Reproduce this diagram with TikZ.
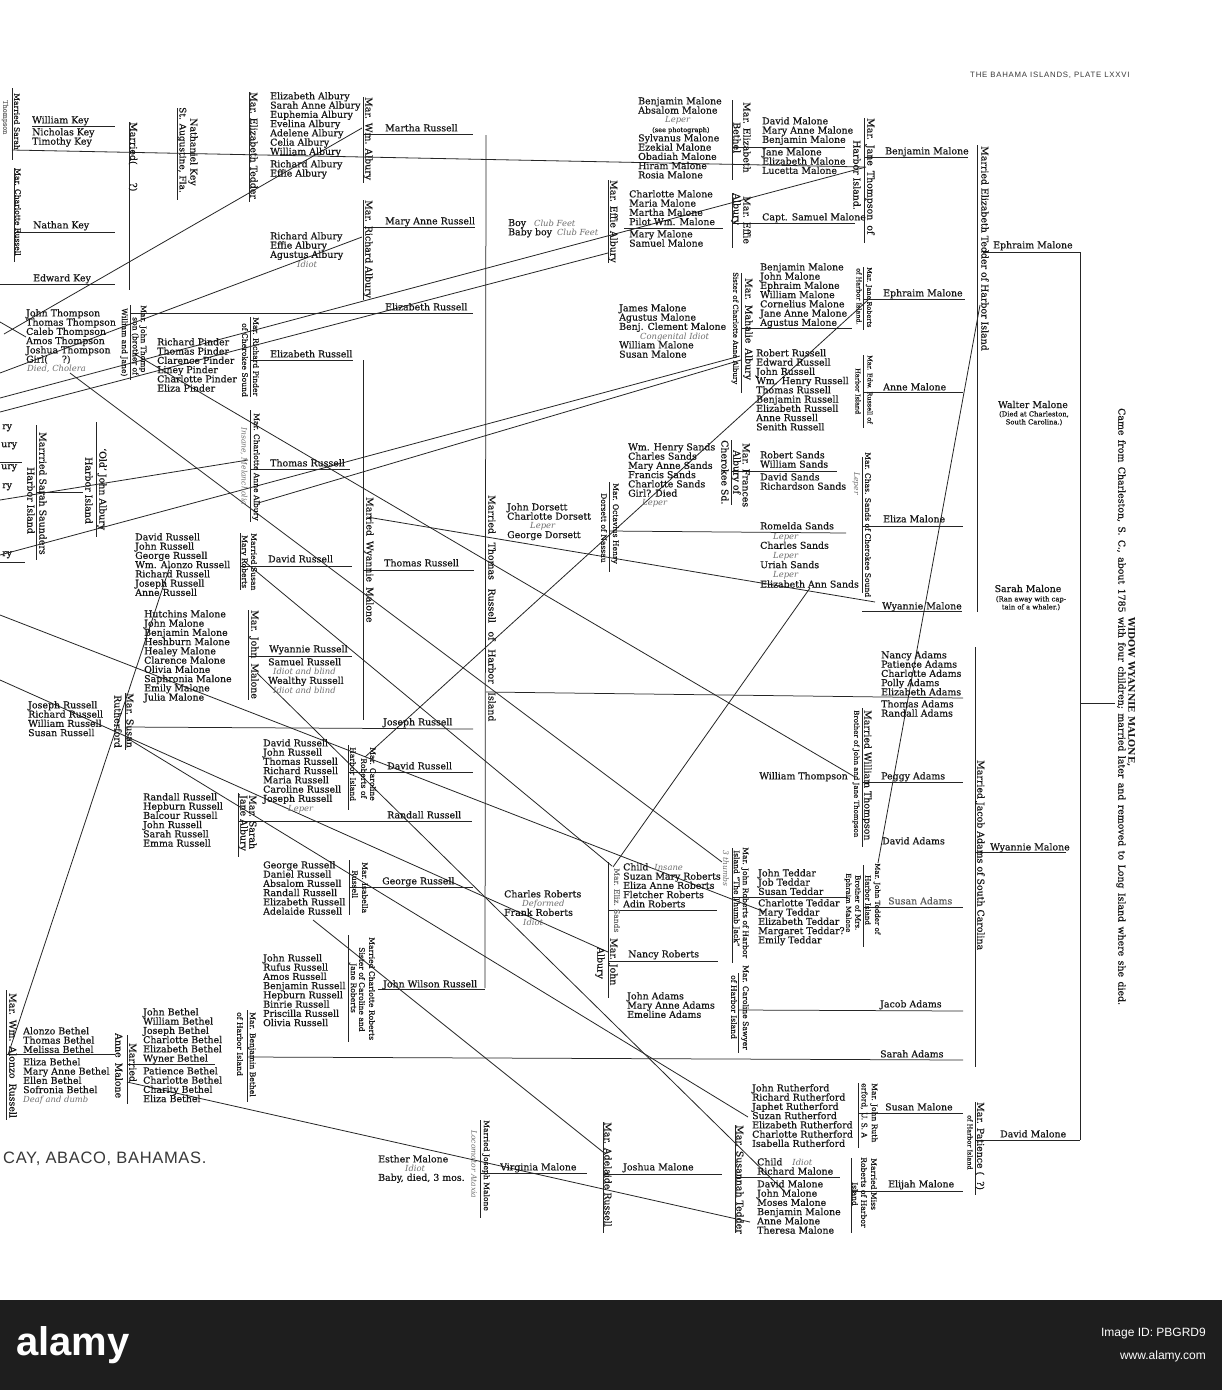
\documentclass[tikz,border=0pt]{standalone}
\usepackage{fontspec}
\setmainfont{DejaVu Serif}[UprightFeatures={FakeBold=0.45}]
\newfontfamily\hdfont[LetterSpace=10]{Liberation Sans}
\newfontfamily\cayfont[LetterSpace=4]{Liberation Sans}
\newfontfamily\logofont{Liberation Sans}
\definecolor{ink}{HTML}{151515}
\definecolor{lnc}{HTML}{252525}
\definecolor{notec}{HTML}{6E6E6E}
\definecolor{band}{HTML}{1E1E1E}
\newcommand\nte[1]{{\color{notec}\itshape\fontsize{8.4}{9.25}\selectfont #1}}
\newcommand\wsp{\hspace{5pt}}
\tikzset{
  nm/.style={anchor=north west, inner sep=0pt, align=left, text=ink, font=\fontsize{9.4}{9.25}\selectfont},
  vl/.style={rotate=-90, anchor=west, inner sep=0pt, text=ink, font=\fontsize{9.4}{9.25}\selectfont},
  vs/.style={vl, font=\fontsize{7.6}{8}\selectfont},
  vss/.style={vl, font=\fontsize{7}{8}\selectfont},
  vt/.style={vl, font=\fontsize{6.5}{7}\selectfont},
  vi/.style={vl, text=notec, font=\itshape\fontsize{7.6}{8}\selectfont},
  ln/.style={draw=lnc, line width=0.75pt},
  dg/.style={draw=lnc, line width=0.8pt},
}
\begin{document}
\begin{tikzpicture}[x=1pt,y=-1pt]
\useasboundingbox (0,0) rectangle (1222,1390);
\fill[white] (0,0) rectangle (1222,1300);
\fill[band] (0,1300) rectangle (1222,1390);
\node[anchor=west, inner sep=0pt, text=white, font=\logofont\bfseries\fontsize{40}{40}\selectfont] (logo) at (16,1345) {alamy};
\node[anchor=east, inner sep=0pt, text=white, font=\logofont\fontsize{12}{12}\selectfont] (imgid) at (1206,1334) {Image ID: PBGRD9};
\node[anchor=east, inner sep=0pt, text=white, font=\logofont\fontsize{12}{12}\selectfont] (www) at (1206,1356) {www.alamy.com};

% headers
\node[anchor=west, inner sep=0pt, text=ink!85, font=\hdfont\fontsize{7.8}{8}\selectfont] (hdr) at (970,75) {THE BAHAMA ISLANDS, PLATE LXXVI};
\node[anchor=west, inner sep=0pt, text=ink!85, font=\cayfont\fontsize{16.5}{17}\selectfont] (cay) at (3,1159) {CAY, ABACO, BAHAMAS.};

% ---------------- vertical structure lines ----------------
\draw[ln] (12,88) -- (12,160);
\draw[ln] (14,168) -- (14,262);
\draw[ln] (129,122) -- (129,290);
\draw[ln] (177,108) -- (177,200);
\draw[ln] (249,92) -- (249,202);
\draw[ln] (363,97) -- (363,183);
\draw[ln] (363,200) -- (363,300);
\draw[ln] (130,305) -- (130,380);
\draw[ln] (250,317) -- (250,397);
\draw[ln] (363,360) -- (363,720);
\draw[ln] (250,410) -- (250,522);
\draw[ln] (36,425) -- (36,560);
\draw[ln] (96,422) -- (96,537);
\draw[ln] (240,533) -- (240,590);
\draw[ln] (248,610) -- (248,700);
\draw[ln] (125,693) -- (125,750);
\draw[ln] (348,745) -- (348,810);
\draw[ln] (238,793) -- (238,857);
\draw[ln] (349,860) -- (349,915);
\draw[ln] (348,935) -- (348,1042);
\draw[ln] (247,1010) -- (247,1102);
\draw[ln] (127,1035) -- (127,1104);
\draw[ln] (6,990) -- (6,1120);
\draw[ln] (732,100) -- (732,180);
\draw[ln] (732,193) -- (732,248);
\draw[ln] (608,180) -- (608,263);
\draw[ln] (864,118) -- (864,243);
\draw[ln] (741,273) -- (741,393);
\draw[ln] (863,267) -- (863,330);
\draw[ln] (863,355) -- (863,428);
\draw[ln] (731,440) -- (731,505);
\draw[ln] (609,482) -- (609,572);
\draw[ln] (862,457) -- (862,593);
\draw[ln] (486,135) -- (485,988);
\draw[ln] (977,145) -- (977,612);
\draw[ln] (1080,252) -- (1080,1140);
\draw[ln] (975,647) -- (975,1067);
\draw[ln] (862,708) -- (862,847);
\draw[ln] (863,865) -- (863,947);
\draw[ln] (608,862) -- (608,998);
\draw[ln] (732,848) -- (732,963);
\draw[ln] (738,973) -- (738,1053);
\draw[ln] (858,1083) -- (858,1148);
\draw[ln] (851,1158) -- (851,1233);
\draw[ln] (975,1102) -- (975,1195);
\draw[ln] (735,1125) -- (735,1233);
\draw[ln] (603,1122) -- (603,1233);
\draw[ln] (480,1120) -- (480,1218);

% ---------------- horizontal lines ----------------
\draw[ln] (32,126) -- (115,126);
\draw[ln] (14,232) -- (115,232);
\draw[ln] (0,284) -- (115,284);
\draw[ln] (363,134) -- (473,134);
\draw[ln] (363,227) -- (475,227);
\draw[ln] (130,313) -- (473,313);
\draw[ln] (250,360) -- (353,360);
\draw[ln] (250,469) -- (350,469);
\draw[ln] (240,566) -- (352,566);
\draw[ln] (248,656) -- (352,656);
\draw[ln] (363,570) -- (474,570);
\draw[ln] (125,727) -- (473,729);
\draw[ln] (348,772) -- (473,772);
\draw[ln] (238,821) -- (472,821);
\draw[ln] (349,887) -- (473,887);
\draw[ln] (378,989) -- (485,989);
\draw[ln] (36,492) -- (83,492);
\draw[ln] (0,462) -- (22,462);
\draw[ln] (0,562) -- (25,562);
\draw[ln] (864,157) -- (968,157);
\draw[ln] (732,147) -- (845,147);
\draw[ln] (732,223) -- (855,223);
\draw[ln] (624,228) -- (723,228);
\draw[ln] (741,328) -- (852,328);
\draw[ln] (863,299) -- (965,299);
\draw[ln] (863,392) -- (963,392);
\draw[ln] (731,471) -- (837,471);
\draw[ln] (609,531) -- (846,533);
\draw[ln] (862,526) -- (963,526);
\draw[ln] (862,611) -- (962,611);
\draw[ln] (486,692) -- (963,698);
\draw[ln] (983,252) -- (1080,252);
\draw[ln] (975,852) -- (1066,852);
\draw[ln] (975,1140) -- (1080,1140);
\draw[ln] (1080,703) -- (1115,703);
\draw[ln] (862,782) -- (963,782);
\draw[ln] (863,907) -- (963,907);
\draw[ln] (732,897) -- (848,897);
\draw[ln] (608,910) -- (717,910);
\draw[ln] (608,961) -- (718,961);
\draw[ln] (738,1010) -- (963,1011);
\draw[ln] (247,1057) -- (963,1060);
\draw[ln] (858,1113) -- (963,1113);
\draw[ln] (851,1191) -- (963,1191);
\draw[ln] (735,1177) -- (840,1177);
\draw[ln] (603,1174) -- (722,1174);
\draw[ln] (480,1173) -- (587,1173);
\draw[ln] (127,1064) -- (215,1064);
\draw[ln] (6,1054) -- (115,1054);

% ---------------- long connecting lines ----------------
\draw[dg] (12,150) -- (865,167);
\draw[dg] (4,334) -- (362,128);
\draw[dg] (0,373) -- (362,237);
\draw[dg] (0,398) -- (866,167);
\draw[dg] (0,412) -- (608,253);
\draw[dg] (0,322) -- (26,337);
\draw[dg] (70,373) -- (722,862);
\draw[dg] (133,353) -- (855,777);
\draw[dg] (0,500) -- (248,460);
\draw[dg] (0,555) -- (740,356);
\draw[dg] (258,503) -- (741,360);
\draw[dg] (367,517) -- (875,602);
\draw[dg] (868,300) -- (365,757);
\draw[dg] (810,588) -- (613,867);
\draw[dg] (980,305) -- (878,863);
\draw[dg] (0,615) -- (765,912);
\draw[dg] (245,562) -- (612,866);
\draw[dg] (0,680) -- (608,952);
\draw[dg] (257,673) -- (783,1190);
\draw[dg] (170,566) -- (8,1055);
\draw[dg] (313,920) -- (603,1152);
\draw[dg] (127,738) -- (748,1117);
\draw[dg] (127,1082) -- (750,1222);

% ---------------- names (left part) ----------------
\node[nm] (wkey) at (32,116) {William Key};
\node[nm] (nkey) at (32,128) {Nicholas Key\\Timothy Key};
\node[nm] (nathan) at (33,221) {Nathan Key};
\node[nm] (edward) at (33,274) {Edward Key};
\node[nm] (alb1) at (270,92) {Elizabeth Albury\\Sarah Anne Albury\\Euphemia Albury\\Evelina Albury\\Adelene Albury\\Celia Albury\\William Albury};
\node[nm] (alb2) at (270,160) {Richard Albury\\Effie Albury};
\node[nm] (martha) at (385,124) {Martha Russell};
\node[nm] (maryanne) at (385,217) {Mary Anne Russell};
\node[nm] (alb3) at (270,232) {Richard Albury\\Effie Albury\\Agustus Albury\\\hspace*{27pt}\nte{Idiot}};
\node[nm] (elizr1) at (385,303) {Elizabeth Russell};
\node[nm] (thomp) at (26,309) {John Thompson\\Thomas Thompson\\Caleb Thompson\\Amos Thompson\\Joshua Thompson\\Girl(\hspace{14pt}?)\\\hspace*{1pt}\nte{Died, Cholera}};
\node[nm] (pinder) at (157,338) {Richard Pinder\\Thomas Pinder\\Clarence Pinder\\Liney Pinder\\Charlotte Pinder\\Eliza Pinder};
\node[nm] (elizr2) at (270,350) {Elizabeth Russell};
\node[nm] (thomr1) at (270,459) {Thomas Russell};
\node[nm] (davgrp) at (135,533) {David Russell\\John Russell\\George Russell\\Wm. Alonzo Russell\\Richard Russell\\Joseph Russell\\Anne Russell};
\node[nm] (davr1) at (268,555) {David Russell};
\node[nm] (thomr2) at (384,559) {Thomas Russell};
\node[nm] (hutch) at (144,610) {Hutchins Malone\\John Malone\\Benjamin Malone\\Heshburn Malone\\Healey Malone\\Clarence Malone\\Olivia Malone\\Saphronia Malone\\Emily Malone\\Julia Malone};
\node[nm] (wyr) at (269,645) {Wyannie Russell};
\node[nm] (samr) at (268,658) {Samuel Russell\\\hspace*{5pt}\nte{Idiot and blind}\\Wealthy Russell\\\hspace*{5pt}\nte{Idiot and blind}};
\node[nm] (josgrp) at (28,701) {Joseph Russell\\Richard Russell\\William Russell\\Susan Russell};
\node[nm] (josr) at (383,718) {Joseph Russell};
\node[nm] (davgrp2) at (263,739) {David Russell\\John Russell\\Thomas Russell\\Richard Russell\\Maria Russell\\Caroline Russell\\Joseph Russell\\\hspace*{25pt}\nte{Leper}};
\node[nm] (davr2) at (387,762) {David Russell};
\node[nm] (randgrp) at (143,793) {Randall Russell\\Hepburn Russell\\Balcour Russell\\John Russell\\Sarah Russell\\Emma Russell};
\node[nm] (randr) at (387,811) {Randall Russell};
\node[nm] (georgrp) at (263,861) {George Russell\\Daniel Russell\\Absalom Russell\\Randall Russell\\Elizabeth Russell\\Adelaide Russell};
\node[nm] (georr) at (382,877) {George Russell};
\node[nm] (johngrp) at (263,954) {John Russell\\Rufus Russell\\Amos Russell\\Benjamin Russell\\Hepburn Russell\\Binrie Russell\\Priscilla Russell\\Olivia Russell};
\node[nm] (jwr) at (383,980) {John Wilson Russell};
\node[nm] (alon1) at (23,1027) {Alonzo Bethel\\Thomas Bethel\\Melissa Bethel};
\node[nm] (alon2) at (23,1058) {Eliza Bethel\\Mary Anne Bethel\\Ellen Bethel\\Sofronia Bethel\\\nte{Deaf and dumb}};
\node[nm] (beth1) at (143,1008) {John Bethel\\William Bethel\\Joseph Bethel\\Charlotte Bethel\\Elizabeth Bethel\\Wyner Bethel};
\node[nm] (beth2) at (143,1067) {Patience Bethel\\Charlotte Bethel\\Charity Bethel\\Eliza Bethel};
\node[nm] (esther) at (378,1155) {Esther Malone\\\hspace*{27pt}\nte{Idiot}\\Baby, died, 3 mos.};
\node[nm] (virg) at (500,1163) {Virginia Malone};
\node[nm] (joshua) at (623,1163) {Joshua Malone};
% fragments of names cut by the left edge of the plate
\node[nm] (cut1) at (2,424) {ry};
\node[nm] (cut2) at (1,442) {ury};
\node[nm] (cut3) at (1,464) {ury};
\node[nm] (cut4) at (2,483) {ry};
\node[nm] (cut5) at (2,551) {ry};

% ---------------- names (middle / right part) ----------------
\node[nm] (boy) at (508,219) {Boy\hspace{8pt}\nte{Club Feet}\\Baby boy\hspace{5pt}\nte{Club Feet}};
\node[nm] (malt) at (638,97) {Benjamin Malone\\Absalom Malone\\\hspace*{27pt}\nte{Leper}\\\hspace*{14pt}{\fontsize{6.6}{9.25}\selectfont(see photograph)}\\Sylvanus Malone\\Ezekial Malone\\Obadiah Malone\\Hiram Malone\\Rosia Malone};
\node[nm] (davm1) at (762,117) {David Malone\\Mary Anne Malone\\Benjamin Malone};
\node[nm] (davm2) at (762,148) {Jane Malone\\Elizabeth Malone\\Lucetta Malone};
\node[nm] (benm) at (885,147) {Benjamin Malone};
\node[nm] (chm1) at (629,190) {Charlotte Malone\\Maria Malone\\Martha Malone\\Pilot Wm. Malone};
\node[nm] (chm2) at (629,230) {Mary Malone\\Samuel Malone};
\node[nm] (capt) at (762,213) {Capt. Samuel Malone};
\node[nm] (ephr1) at (993,241) {Ephraim Malone};
\node[nm] (benm2) at (760,263) {Benjamin Malone\\John Malone\\Ephraim Malone\\William Malone\\Cornelius Malone\\Jane Anne Malone\\Agustus Malone};
\node[nm] (ephr2) at (883,289) {Ephraim Malone};
\node[nm] (james) at (619,304) {James Malone\\Agustus Malone\\Benj. Clement Malone\\\hspace*{21pt}\nte{Congenital Idiot}\\William Malone\\Susan Malone};
\node[nm] (robr) at (756,349) {Robert Russell\\Edward Russell\\John Russell\\Wm. Henry Russell\\Thomas Russell\\Benjamin Russell\\Elizabeth Russell\\Anne Russell\\Senith Russell};
\node[nm] (annem) at (883,383) {Anne Malone};
\node[nm] (whs) at (628,443) {Wm. Henry Sands\\Charles Sands\\Mary Anne Sands\\Francis Sands\\Charlotte Sands\\Girl? Died\\\hspace*{14pt}\nte{Leper}};
\node[nm] (rs1) at (760,451) {Robert Sands\\William Sands};
\node[nm] (rs2) at (760,473) {David Sands\\Richardson Sands};
\node[nm] (dors) at (507,503) {John Dorsett\\Charlotte Dorsett\\\hspace*{23pt}\nte{Leper}\\George Dorsett};
\node[nm, font=\fontsize{9.4}{9.7}\selectfont] (rom) at (760,522) {Romelda Sands\\\hspace*{13pt}\nte{Leper}\\Charles Sands\\\hspace*{13pt}\nte{Leper}\\Uriah Sands\\\hspace*{13pt}\nte{Leper}\\Elizabeth Ann Sands};
\node[nm] (elizam) at (883,515) {Eliza Malone};
\node[nm] (wym1) at (882,602) {Wyannie Malone};
\node[anchor=base, inner sep=0pt, text=ink, font=\fontsize{9.4}{9.25}\selectfont] (walter) at (1033,408) {Walter Malone};
\node[anchor=north, inner sep=0pt, align=center, text=ink, font=\fontsize{6.8}{8}\selectfont] (walter2) at (1034,411) {(Died at Charleston,\\South Carolina.)};
\node[anchor=base, inner sep=0pt, text=ink, font=\fontsize{9.4}{9.25}\selectfont] (sarah) at (1028,592) {Sarah Malone};
\node[anchor=north, inner sep=0pt, align=center, text=ink, font=\fontsize{6.8}{8}\selectfont] (sarah2) at (1031,596) {(Ran away with cap-\\tain of a whaler.)};
\node[nm] (adams1) at (881,651) {Nancy Adams\\Patience Adams\\Charlotte Adams\\Polly Adams\\Elizabeth Adams};
\node[nm] (adams2) at (881,700) {Thomas Adams\\Randall Adams};
\node[nm, anchor=north east] (wthomp) at (848,772) {William Thompson};
\node[nm] (peggy) at (881,772) {Peggy Adams};
\node[nm] (davad) at (882,837) {David Adams};
\node[nm] (wym2) at (990,843) {Wyannie Malone};
\node[nm] (robgrp) at (623,863) {Child\hspace{6pt}\nte{Insane}\\Suzan Mary Roberts\\Eliza Anne Roberts\\Fletcher Roberts\\Adin Roberts};
\node[nm] (nancy) at (628,950) {Nancy Roberts};
\node[nm] (charob) at (504,890) {Charles Roberts\\\hspace*{18pt}\nte{Deformed}\\Frank Roberts\\\hspace*{19pt}\nte{Idiot}};
\node[nm] (johnad) at (627,992) {John Adams\\Mary Anne Adams\\Emeline Adams};
\node[nm] (ted1) at (758,869) {John Teddar\\Job Teddar\\Susan Teddar};
\node[nm] (ted2) at (758,899) {Charlotte Teddar\\Mary Teddar\\Elizabeth Teddar\\Margaret Teddar?\\Emily Teddar};
\node[nm, text=ink!70] (susad) at (888,897) {Susan Adams};
\node[nm] (jacob) at (880,1000) {Jacob Adams};
\node[nm] (sarad) at (880,1050) {Sarah Adams};
\node[nm] (ruth) at (752,1084) {John Rutherford\\Richard Rutherford\\Japhet Rutherford\\Suzan Rutherford\\Elizabeth Rutherford\\Charlotte Rutherford\\Isabella Rutherford};
\node[nm] (susm) at (885,1103) {Susan Malone};
\node[nm] (davm3) at (1000,1130) {David Malone};
\node[nm] (chid) at (757,1158) {Child\hspace{10pt}\nte{Idiot}\\Richard Malone};
\node[nm] (malb) at (757,1180) {David Malone\\John Malone\\Moses Malone\\Benjamin Malone\\Anne Malone\\Theresa Malone};
\node[nm] (elijah) at (888,1180) {Elijah Malone};

% ---------------- vertical labels (left part) ----------------
\node[vs] (v1) at (17,93) {Married Sarah};
\node[vt, text=notec] (v2) at (5,100) {Thompson};
\node[vs] (v3) at (18,168) {Mar. Charlotte Russell};
\node[vl] (v4) at (133,122) {Married(\hspace{18pt}?)};
\node[vl] (v5) at (193,118) {Nathaniel Key};
\node[vl, font=\fontsize{9}{9}\selectfont] (v6) at (182,107) {St. Augustine, Fla.};
\node[vl] (v7) at (254,92) {Mar. Elizabeth Tedder};
\node[vl] (v8) at (368,97) {Mar. Wm. Albury};
\node[vl] (v9) at (368,200) {Mar. Richard Albury};
\node[vs] (v10) at (143,305) {Mar. John Thomp};
\node[vs] (v11) at (135,317) {son (brother of};
\node[vs] (v12) at (124,308) {William and Jane)};
\node[vs] (v13) at (256,317) {Mar. Richard Pinder};
\node[vs] (v14) at (245,323) {of Cherokee Sound};
\node[vl] (v15) at (43,432) {Marrried Sarah Saunders};
\node[vl] (v16) at (31,467) {Harbor Island};
\node[vl] (v17) at (102,448) {`Old' John Albury};
\node[vl] (v18) at (89,457) {Harbor Island};
\node[vs] (v19) at (256,413) {Mar. Charlotte Anne Albury};
\node[vi] (v20) at (244,427) {Insane, Melancholia};
\node[vs] (v21) at (254,533) {Married Susan};
\node[vs] (v22) at (244,535) {Mary Roberts};
\node[vl] (v23) at (369,497) {Married\wsp Wyannie\wsp Malone};
\node[vl] (v24) at (254,610) {Mar.\wsp John\wsp Malone};
\node[vl] (v25) at (130,693) {Mar. Susan};
\node[vl] (v26) at (118,695) {Rutherford};
\node[vs] (v27) at (373,747) {Mar. Caroline};
\node[vs] (v28) at (364,758) {Roberts of};
\node[vs] (v29) at (353,747) {Harbor Island};
\node[vl] (v30) at (253,795) {Mar. Sarah};
\node[vl] (v31) at (243,795) {Jane Albury};
\node[vs] (v32) at (365,862) {Mar. Isabella};
\node[vs] (v33) at (355,870) {Russell};
\node[vs] (v34) at (372,937) {Married Charlotte Roberts};
\node[vs] (v35) at (362,947) {Sister of Caroline and};
\node[vs] (v36) at (353,963) {Jane Roberts};
\node[vl] (v37) at (13,993) {Mar.\wsp Wm.\wsp Alonzo\wsp Russell};
\node[vl] (v38) at (133,1043) {Married};
\node[vl] (v39) at (119,1033) {Anne\wsp Malone};
\node[vs] (v40) at (252,1012) {Mar. Benjamin Bethel};
\node[vs] (v41) at (240,1012) {of Harbor Island};
\node[vs] (v42) at (486,1120) {Married Joseph Malone};
\node[vi] (v43) at (474,1130) {Locomotor Ataxia};
\node[vl] (v44) at (608,1122) {Mar. Adelaide Russell};

% ---------------- vertical labels (middle / right part) ----------------
\node[vl] (v45) at (613,180) {Mar. Effie Albury};
\node[vl] (v46) at (747,102) {Mar. Elizabeth};
\node[vl] (v47) at (737,122) {Bethel};
\node[vl] (v48) at (747,196) {Mar. Effie};
\node[vl] (v49) at (736,193) {Albury};
\node[vl] (v50) at (870,118) {Mar.\wsp Jane\wsp Thompson\wsp of};
\node[vl] (v51) at (857,140) {Harbor Island.};
\node[vl] (v52) at (985,146) {Married Elizabeth Tedder of Harbor Island};
\node[vl] (v53) at (748,278) {Mar.\wsp Mahalie\wsp Albury};
\node[vss] (v54) at (735,272) {Sister of Charlotte Anne Albury};
\node[vt] (v55) at (869,267) {Mar. Jane Roberts};
\node[vt] (v56) at (859,268) {of Harbor Island.};
\node[vt] (v57) at (870,355) {Mar. Edw. Russell of};
\node[vt] (v58) at (858,368) {Harbor Island};
\node[vl] (v59) at (746,443) {Mar. Frances};
\node[vl] (v60) at (736,450) {Albury of};
\node[vl] (v61) at (725,440) {Cherokee Sd.};
\node[vs] (v62) at (615,483) {Mar. Octavius Henry};
\node[vs] (v63) at (604,493) {Dorsett of Nassau};
\node[vs] (v64) at (868,452) {Mar. Chas. Sands of Cherokee Sound};
\node[vi] (v65) at (856,472) {Leper};
\node[vl] (v66) at (492,495) {\spaceskip=8.6pt\relax Married Thomas Russell of Harbor Island};
\node[vl, font=\bfseries\fontsize{9.2}{9.25}\selectfont] (v67) at (1131,617) {WIDOW WYANNIE MALONE,};
\node[vl] (v68) at (1121,408) {\spaceskip=4.4pt\relax Came from Charleston, S. C., about 1785 with four children; married later and removed to Long Island where she died.};
\node[vl] (v69) at (867,710) {Married William Thompson};
\node[vss] (v70) at (856,710) {Brother of John and Jane Thompson};
\node[vl] (v71) at (980,760) {Married Jacob Adams of South Carolina};
\node[vs, text=notec] (v72) at (617,868) {Mar. Eliz. Sands};
\node[vl] (v73) at (613,938) {Mar. John};
\node[vl] (v74) at (600,947) {Albury};
\node[vs] (v75) at (745,847) {Mar. John Roberts of Harbor};
\node[vs] (v76) at (736,850) {Island ``The Thumb Jack''};
\node[vi] (v77) at (726,850) {3 thumbs};
\node[vss] (v78) at (877,863) {Mar. John Tedder of};
\node[vss] (v79) at (868,875) {Harbor Island};
\node[vss] (v80) at (858,875) {Brother of Mrs.};
\node[vss] (v81) at (848,873) {Ephraim Malone};
\node[vs] (v82) at (745,965) {Mar. Caroline Sawyer};
\node[vs] (v83) at (734,975) {of Harbor Island};
\node[vs] (v84) at (874,1083) {Mar. John Ruth};
\node[vs] (v85) at (864,1083) {erford, U. S. A};
\node[vl] (v86) at (980,1102) {Mar. Patience (\hspace{6pt}?)};
\node[vt] (v87) at (970,1115) {of Harbor Island};
\node[vl] (v88) at (740,1125) {Mar. Susannah Tedder};
\node[vs] (v89) at (874,1158) {Married Miss};
\node[vs] (v90) at (864,1157) {Roberts of Harbor};
\node[vs] (v91) at (855,1182) {Island};
\end{tikzpicture}
\end{document}
